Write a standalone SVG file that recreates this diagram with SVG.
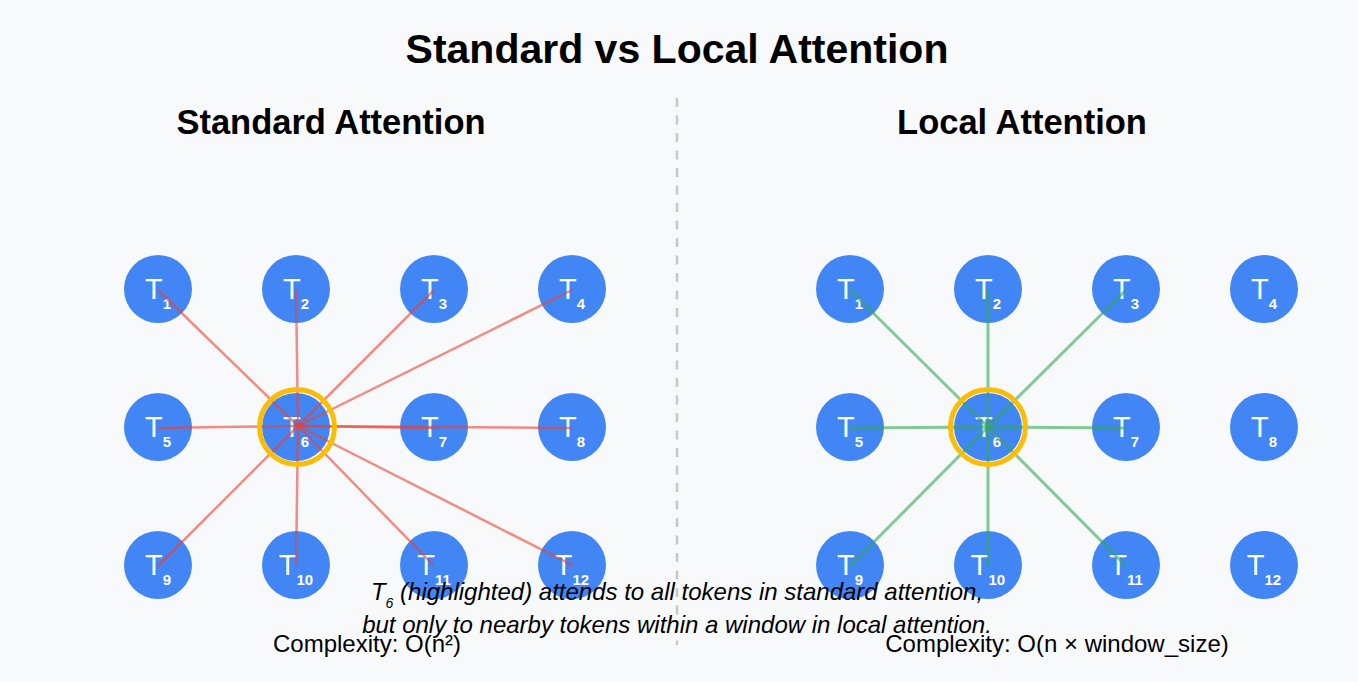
<svg xmlns="http://www.w3.org/2000/svg" width="1358" height="682" viewBox="0 0 1358 682">
<style>
  .bg { fill: #f8f9fa; }
  .title { font-family: "Liberation Sans", Arial, sans-serif; font-weight: bold; font-size: 41px; fill: #000; text-anchor: middle; }
  .sub { font-family: "Liberation Sans", Arial, sans-serif; font-weight: bold; font-size: 34.5px; fill: #000; text-anchor: middle; }
  .node circle { fill: #4285f4; }
  .lbl { font-family: "Liberation Sans", Arial, sans-serif; font-size: 29px; fill: #fff; text-anchor: middle; }
  .lbl tspan { font-size: 15px; font-weight: bold; }
  .ring { fill: none; stroke: #fbbc04; stroke-width: 5; }
  .red line { stroke: #ea4335; stroke-opacity: 0.6; stroke-width: 2.5; }
  .green line { stroke: #34a853; stroke-opacity: 0.6; stroke-width: 3; }
  .divider { stroke: #c8c8c8; stroke-width: 2.5; stroke-dasharray: 9 8.5; }
  .caption { font-family: "Liberation Sans", Arial, sans-serif; font-style: italic; font-size: 24px; fill: #000; text-anchor: middle; }
  .cx { font-family: "Liberation Sans", Arial, sans-serif; font-size: 24px; fill: #000; text-anchor: middle; }
</style>
<rect class="bg" x="0" y="0" width="1358" height="682"/>
<text class="title" x="677" y="63">Standard vs Local Attention</text>
<line class="divider" x1="677" y1="98" x2="677" y2="645"/>
<text class="sub" x="331" y="134">Standard Attention</text>
<text class="sub" x="1022" y="134">Local Attention</text>

<g id="left-nodes">
  <g id="L-T1" class="node"><circle cx="158" cy="289" r="34"/><text class="lbl" x="158" y="299">T<tspan dy="10">1</tspan></text></g>
  <g id="L-T2" class="node"><circle cx="296" cy="289" r="34"/><text class="lbl" x="296" y="299">T<tspan dy="10">2</tspan></text></g>
  <g id="L-T3" class="node"><circle cx="434" cy="289" r="34"/><text class="lbl" x="434" y="299">T<tspan dy="10">3</tspan></text></g>
  <g id="L-T4" class="node"><circle cx="572" cy="289" r="34"/><text class="lbl" x="572" y="299">T<tspan dy="10">4</tspan></text></g>
  <g id="L-T5" class="node"><circle cx="158" cy="427" r="34"/><text class="lbl" x="158" y="437">T<tspan dy="10">5</tspan></text></g>
  <g id="L-T6" class="node"><circle cx="296" cy="427" r="34"/><text class="lbl" x="296" y="437">T<tspan dy="10">6</tspan></text></g>
  <g id="L-T7" class="node"><circle cx="434" cy="427" r="34"/><text class="lbl" x="434" y="437">T<tspan dy="10">7</tspan></text></g>
  <g id="L-T8" class="node"><circle cx="572" cy="427" r="34"/><text class="lbl" x="572" y="437">T<tspan dy="10">8</tspan></text></g>
  <g id="L-T9" class="node"><circle cx="158" cy="565" r="34"/><text class="lbl" x="158" y="575">T<tspan dy="10">9</tspan></text></g>
  <g id="L-T10" class="node"><circle cx="296" cy="565" r="34"/><text class="lbl" x="296" y="575">T<tspan dy="10">10</tspan></text></g>
  <g id="L-T11" class="node"><circle cx="434" cy="565" r="34"/><text class="lbl" x="434" y="575">T<tspan dy="10">11</tspan></text></g>
  <g id="L-T12" class="node"><circle cx="572" cy="565" r="34"/><text class="lbl" x="572" y="575">T<tspan dy="10">12</tspan></text></g>
</g>

<g id="right-nodes">
  <g id="R-T1" class="node"><circle cx="850" cy="289" r="34"/><text class="lbl" x="850" y="299">T<tspan dy="10">1</tspan></text></g>
  <g id="R-T2" class="node"><circle cx="988" cy="289" r="34"/><text class="lbl" x="988" y="299">T<tspan dy="10">2</tspan></text></g>
  <g id="R-T3" class="node"><circle cx="1126" cy="289" r="34"/><text class="lbl" x="1126" y="299">T<tspan dy="10">3</tspan></text></g>
  <g id="R-T4" class="node"><circle cx="1264" cy="289" r="34"/><text class="lbl" x="1264" y="299">T<tspan dy="10">4</tspan></text></g>
  <g id="R-T5" class="node"><circle cx="850" cy="427" r="34"/><text class="lbl" x="850" y="437">T<tspan dy="10">5</tspan></text></g>
  <g id="R-T6" class="node"><circle cx="988" cy="427" r="34"/><text class="lbl" x="988" y="437">T<tspan dy="10">6</tspan></text></g>
  <g id="R-T7" class="node"><circle cx="1126" cy="427" r="34"/><text class="lbl" x="1126" y="437">T<tspan dy="10">7</tspan></text></g>
  <g id="R-T8" class="node"><circle cx="1264" cy="427" r="34"/><text class="lbl" x="1264" y="437">T<tspan dy="10">8</tspan></text></g>
  <g id="R-T9" class="node"><circle cx="850" cy="565" r="34"/><text class="lbl" x="850" y="575">T<tspan dy="10">9</tspan></text></g>
  <g id="R-T10" class="node"><circle cx="988" cy="565" r="34"/><text class="lbl" x="988" y="575">T<tspan dy="10">10</tspan></text></g>
  <g id="R-T11" class="node"><circle cx="1126" cy="565" r="34"/><text class="lbl" x="1126" y="575">T<tspan dy="10">11</tspan></text></g>
  <g id="R-T12" class="node"><circle cx="1264" cy="565" r="34"/><text class="lbl" x="1264" y="575">T<tspan dy="10">12</tspan></text></g>
</g>

<g id="connectors">
  <g class="red">
    <line x1="298" y1="426" x2="158" y2="290"/>
    <line x1="298" y1="426" x2="296" y2="290"/>
    <line x1="298" y1="426" x2="434" y2="290"/>
    <line x1="298" y1="426" x2="572" y2="290"/>
    <line x1="298" y1="426" x2="158" y2="428"/>
    <line x1="298" y1="426" x2="434" y2="428"/>
    <line x1="298" y1="426" x2="572" y2="428"/>
    <line x1="298" y1="426" x2="158" y2="566"/>
    <line x1="298" y1="426" x2="296" y2="566"/>
    <line x1="298" y1="426" x2="434" y2="566"/>
    <line x1="298" y1="426" x2="574" y2="566"/>
  </g>
  <g class="green">
    <line x1="988" y1="427" x2="850" y2="290"/>
    <line x1="988" y1="427" x2="988" y2="290"/>
    <line x1="988" y1="427" x2="1126" y2="290"/>
    <line x1="988" y1="427" x2="850" y2="428"/>
    <line x1="988" y1="427" x2="1126" y2="428"/>
    <line x1="988" y1="427" x2="850" y2="566"/>
    <line x1="988" y1="427" x2="988" y2="566"/>
    <line x1="988" y1="427" x2="1126" y2="566"/>
  </g>
</g>

<g id="highlights">
  <circle class="ring" cx="297" cy="427" r="37.5"/>
  <circle class="ring" cx="988" cy="427" r="37.5"/>
</g>

<text class="caption" x="677" y="600">T<tspan font-size="14" dy="8">6</tspan><tspan dy="-8"> (highlighted) attends to all tokens in standard attention,</tspan></text>
<text class="caption" x="677" y="633">but only to nearby tokens within a window in local attention.</text>
<text class="cx" x="367" y="652">Complexity: O(n²)</text>
<text class="cx" x="1057" y="652">Complexity: O(n × window_size)</text>
</svg>
